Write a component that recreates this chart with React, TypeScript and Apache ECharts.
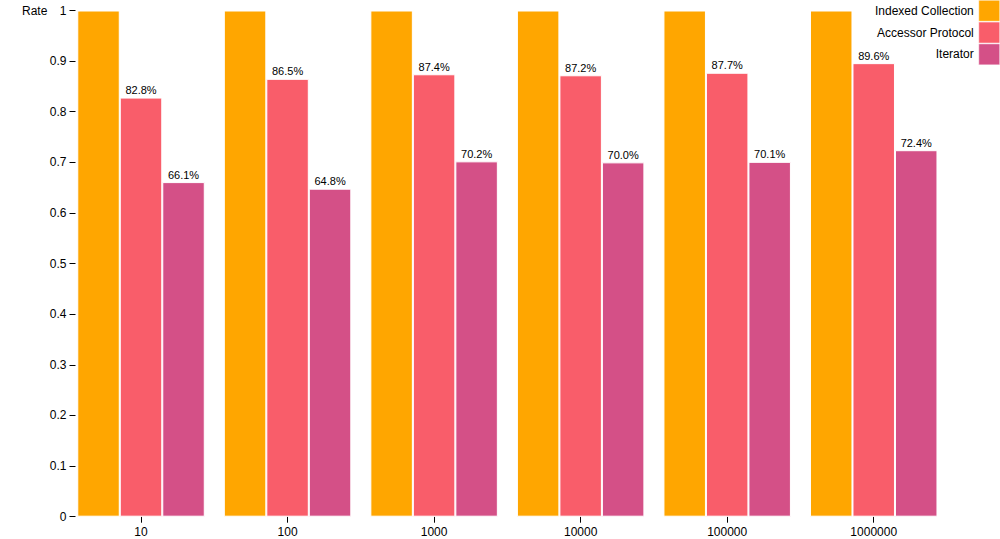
import React, { useEffect, useRef } from "react";
import * as echarts from "echarts";

const categories = ["10", "100", "1000", "10000", "100000", "1000000"];
const seriesNames = ["Indexed Collection", "Accessor Protocol", "Iterator"];
const indexedValues = [1, 1, 1, 1, 1, 1];
const accessorValues = [0.828, 0.865, 0.874, 0.872, 0.877, 0.896];
const iteratorValues = [0.661, 0.648, 0.702, 0.7, 0.701, 0.724];
const colors = ["#ffa600", "#f95d6a", "#d45087"];

const FONT = "'Liberation Sans', Arial, Helvetica, sans-serif";

export default function App() {
  const ref = useRef<HTMLDivElement>(null);
  useEffect(() => {
    if (!ref.current) return;
    const chart = echarts.init(ref.current, null, { renderer: "svg" });
    const mk = (name: string, data: number[], color: string, showLabel: boolean) => ({
      name,
      type: "bar",
      data,
      barGap: "0%",
      barCategoryGap: "13%",
      itemStyle: { color, borderColor: "#fff", borderWidth: 1 },
      label: {
        show: showLabel,
        position: "top",
        distance: 2,
        fontSize: 11,
        fontFamily: FONT,
        color: "#000",
        formatter: (p: any) => (p.value * 100).toFixed(1) + "%",
      },
    });
    chart.setOption({
      animation: false,
      textStyle: { fontFamily: FONT },
      grid: { left: 67.75, right: 53, top: 10.5, bottom: 22.3 },
      legend: {
        orient: "vertical",
        right: 0,
        top: 0,
        padding: 0,
        align: "right",
        itemWidth: 21,
        itemHeight: 21,
        itemGap: 0.3,
        icon: "rect",
        itemStyle: { borderWidth: 0.5, borderColor: "#fff" },
        textStyle: { fontSize: 12, fontFamily: FONT, color: "#000" },
        data: seriesNames,
      },
      xAxis: {
        type: "category",
        data: categories,
        axisLine: { show: false },
        axisTick: { show: true, alignWithLabel: true, length: 6, lineStyle: { color: "#000" } },
        axisLabel: { color: "#000", fontSize: 12, fontFamily: FONT, margin: 9 },
      },
      yAxis: {
        type: "value",
        min: 0,
        max: 1,
        interval: 0.1,
        offset: -7.75,
        splitLine: { show: false },
        axisLine: { show: false },
        axisTick: { show: true, length: 6, lineStyle: { color: "#000" } },
        axisLabel: {
          color: "#000",
          fontSize: 12,
          fontFamily: FONT,
          margin: 9,
          formatter: (v: number) => String(Math.round(v * 10) / 10),
        },
      },
      graphic: [
        {
          type: "text",
          x: 22,
          y: 11,
          style: {
            text: "Rate",
            fontSize: 12,
            fontFamily: FONT,
            fill: "#000",
            verticalAlign: "middle",
          },
        },
      ],
      series: [
        mk(seriesNames[0], indexedValues, colors[0], false),
        mk(seriesNames[1], accessorValues, colors[1], true),
        mk(seriesNames[2], iteratorValues, colors[2], true),
      ],
    });
    return () => chart.dispose();
  }, []);
  return (
    <div
      ref={ref}
      style={{ position: "fixed", left: 0, top: 0, width: 1000, height: 539, background: "#fff" }}
    />
  );
}
